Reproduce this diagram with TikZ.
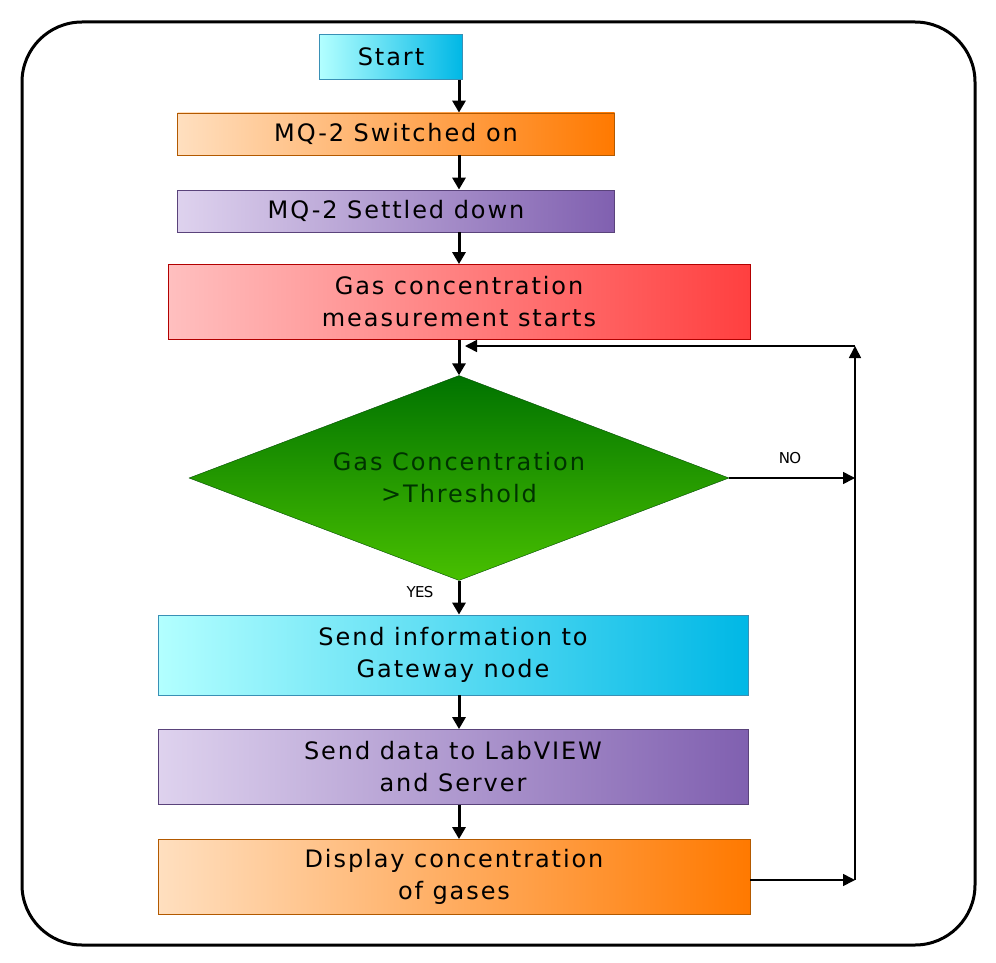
\documentclass[tikz,border=0pt]{standalone}
\usepackage{fontspec}
\setmainfont{DejaVu Sans}[LetterSpace=8]
\usetikzlibrary{shapes.geometric,arrows.meta}
\definecolor{purpR}{RGB}{128,96,176}
\definecolor{purpL}{RGB}{222,210,238}
\begin{document}
\begin{tikzpicture}[x=1pt,y=-1pt,
  box/.style={draw=#1!70!black,line width=0.8pt,minimum height=42pt,align=center,font=\fontsize{24}{32}\selectfont,inner sep=2pt},
  pbox/.style={box=purpR,left color=purpL,right color=purpR},
  arr/.style={-{Triangle[length=12pt,width=13pt]},line width=3pt},
  thin/.style={-{Triangle[length=12pt,width=12pt]},line width=1.6pt}]
\useasboundingbox (0,0) rectangle (996,963);
\draw[line width=3pt,rounded corners=60pt] (22,22) rectangle (975,945);
\node[box=cyan,left color=cyan!30,right color=cyan!80!blue!90!black,minimum width=143pt,minimum height=45pt] (s) at (391,57) {Start};
\node[box=orange,left color=orange!25,right color=orange!95!red,minimum width=437pt] (m1) at (396,134) {MQ-2 Switched on};
\node[pbox,minimum width=437pt] (m2) at (396,211) {MQ-2 Settled down};
\node[box=red,left color=red!25,right color=red!75,minimum width=582pt,minimum height=75pt] (g) at (459,302) {Gas concentration\\measurement starts};
\node[diamond,draw=green!30!black,top color=green!45!black,bottom color=green!50!lime!75!black,aspect=2.63,minimum width=540pt,minimum height=205pt,inner sep=0pt,align=center,font=\fontsize{24}{32}\selectfont,text=green!20!black] (d) at (459,478) {Gas Concentration\\>Threshold};
\node[box=cyan,left color=cyan!30,right color=cyan!80!blue!90!black,minimum width=590pt,minimum height=80pt] (i) at (453,655) {Send information to\\Gateway node};
\node[pbox,minimum width=590pt,minimum height=75pt] (sd) at (453,767) {Send data to LabVIEW\\and Server};
\node[box=orange,left color=orange!25,right color=orange!95!red,minimum width=592pt,minimum height=75pt] (ds) at (454,877) {Display concentration\\of gases};
\draw[arr] (s.south -| g) -- (m1.north -| g);
\draw[arr] (m1.south -| g) -- (m2.north -| g);
\draw[arr] (m2.south -| g) -- (g.north);
\draw[arr] (g.south) -- (d.north);
\draw[arr] (d.south) -- (i.north -| g);
\draw[arr] (i.south -| g) -- (sd.north -| g);
\draw[arr] (sd.south -| g) -- (ds.north -| g);
\coordinate (r1) at (855,478);
\coordinate (r2) at (855,880);
\coordinate (top) at (855,346);
\coordinate (join) at (465,346);
\draw[thin] (d.east) -- (r1);
\draw[thin] (ds.east |- r2) -- (r2);
\draw[thin] (r2) -- (top);
\draw[thin] (top) -- (join);
\node[font=\fontsize{15}{17}\selectfont\addfontfeature{LetterSpace=-5}] (no) at (790,458) {NO};
\node[font=\fontsize{15}{17}\selectfont\addfontfeature{LetterSpace=-5}] (yes) at (420,592) {YES};
\end{tikzpicture}
\end{document}
